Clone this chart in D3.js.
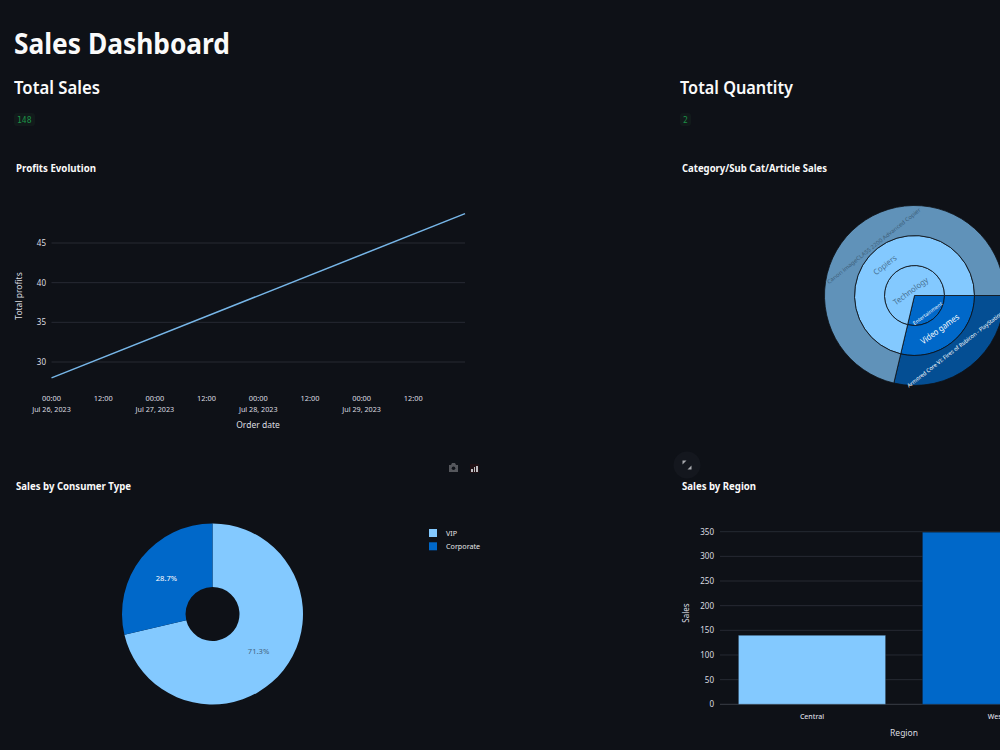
<!DOCTYPE html>
<html><head><meta charset="utf-8">
<script src="https://cdn.jsdelivr.net/npm/d3@7"></script>
<style>
html,body{margin:0;padding:0;background:#0e1117;overflow:hidden;width:1000px;height:750px}
svg{display:block;font-family:"Noto Sans",sans-serif}
</style></head><body><svg id="c" width="1000" height="750"></svg>
<script>
const lineDates = ["2023-07-26T00:00","2023-07-30T00:00"];
const lineProfits = [28,48.7];
const profitTicks = [30,35,40,45];
const dateTicks = ["2023-07-26T00:00","2023-07-26T12:00","2023-07-27T00:00","2023-07-27T12:00","2023-07-28T00:00","2023-07-28T12:00","2023-07-29T00:00","2023-07-29T12:00"];
const consumerTypes = ["VIP","Corporate"];
const consumerSales = [348,140];
const regions = ["Central","West"];
const regionSales = [140,349];
const regionTicks = [0,50,100,150,200,250,300,350];
const sunCategories = ["Technology","Entertainment"];
const sunSubCats = ["Copiers","Video games"];
const sunArticles = ["Canon imageCLASS 2200 Advanced Copier","Armored Core VI: Fires of Rubicon - PlayStation 5"];
const sunSales = [348,140];
const LIGHT="#83c9ff",DARK="#0068c9",BG="#0e1117",TXT="#fafafa",TICK="#dcdde0",GRID="#262a33";
const svg=d3.select("#c");
function txt(g,x,y,s,o={}){return g.append("text").attr("x",x).attr("y",y).text(s)
 .attr("fill",o.fill||TICK).attr("font-size",o.size||8).attr("font-weight",o.weight||400)
 .attr("text-anchor",o.anchor||"start").attr("font-family",o.family||null);}
// header
const HF='"Noto Sans",sans-serif';
txt(svg,14,54,"Sales Dashboard",{fill:TXT,size:28,weight:700,family:HF}).attr("textLength",216).attr("lengthAdjust","spacingAndGlyphs");
txt(svg,14,94,"Total Sales",{fill:TXT,size:18,weight:600,family:HF}).attr("textLength",86).attr("lengthAdjust","spacingAndGlyphs");
txt(svg,680,94,"Total Quantity",{fill:TXT,size:18,weight:600,family:HF}).attr("textLength",113).attr("lengthAdjust","spacingAndGlyphs");
svg.append("rect").attr("x",14).attr("y",113).attr("width",21).attr("height",13).attr("rx",3).attr("fill","#121a1b");
svg.append("rect").attr("x",680).attr("y",113).attr("width",11).attr("height",13).attr("rx",3).attr("fill","#121a1b");
txt(svg,17,123,"148",{fill:"#1c9146",size:8,family:"DejaVu Sans Mono"});
txt(svg,683,123,"2",{fill:"#1c9146",size:8,family:"DejaVu Sans Mono"});
[["Profits Evolution",16,172,80],["Category/Sub Cat/Article Sales",682,172,145],["Sales by Consumer Type",16,490,115],["Sales by Region",682,490,74]].forEach(d=>
 txt(svg,d[1],d[2],d[0],{fill:TXT,size:10,weight:700}).attr("textLength",d[3]).attr("lengthAdjust","spacingAndGlyphs"));
// line chart
const parse=d3.timeParse("%Y-%m-%dT%H:%M");
const x=d3.scaleTime().domain(lineDates.map(parse)).range([51.5,465]);
const y=d3.scaleLinear().domain([30,45]).range([362,243]);
const g1=svg.append("g");
g1.selectAll("line.g").data(profitTicks).join("line").attr("x1",51.5).attr("x2",465).attr("y1",d=>y(d)).attr("y2",d=>y(d)).attr("stroke",GRID);
profitTicks.forEach(t=>txt(g1,46,y(t)+3,t,{anchor:"end",size:8}));
dateTicks.map(parse).forEach(t=>{
 const px=x(t),h=t.getHours();
 txt(g1,px,401,d3.timeFormat("%H:%M")(t),{anchor:"middle",size:7.4});
 if(h===0)txt(g1,px,412,d3.timeFormat("%b %d, %Y")(t),{anchor:"middle",size:7.2});
});
txt(g1,258,428,"Order date",{anchor:"middle",size:8.5});
txt(g1,0,0,"Total profits",{anchor:"middle",size:8.5}).attr("transform","translate(22,296) rotate(-90)");
g1.append("path").datum(lineProfits).attr("fill","none").attr("stroke",LIGHT).attr("stroke-opacity",.9).attr("stroke-width",1.5)
 .attr("d",d3.line().x((d,i)=>x(parse(lineDates[i]))).y(d=>y(d)));
// sunburst
const sc=[914.5,295.5];
const total=d3.sum(sunSales);
const g2=svg.append("g").attr("transform",`translate(${sc})`);
const a0=Math.PI/2;
const ang=d3.scaleLinear().domain([0,total]).range([a0,a0+2*Math.PI]);
const order=[1,0];let cum=0;const spans=order.map(i=>{const s=[cum,cum+sunSales[i]];cum=s[1];return{i,a:ang(s[0]),b:ang(s[1])};});
const rings=[[0,30,1],[30,60,1],[60,90,.7]];
const arc=d3.arc();
rings.forEach(r=>spans.forEach(s=>{
 g2.append("path").attr("d",arc({innerRadius:r[0],outerRadius:r[1],startAngle:s.a,endAngle:s.b}))
  .attr("fill",s.i===0?LIGHT:DARK).attr("fill-opacity",r[2]).attr("stroke",BG).attr("stroke-width",.8);
}));
function lab(s,dx,dy,deg,size,fill,len,anchor){
 const t=g2.append("text").text(s).attr("text-anchor",anchor||"middle").attr("dominant-baseline","central")
  .attr("font-size",size).attr("fill",fill).attr("transform",`translate(${dx},${dy}) rotate(${deg})`);
 if(len)t.attr("textLength",len).attr("lengthAdjust","spacingAndGlyphs");
}
lab(sunCategories[0],-4.3,-5,-36,8,"#466f90",41);
lab(sunCategories[1],13,17.7,-36.5,5,"#ffffff",35);
lab(sunSubCats[0],-30,-31,-38,8,"#466f90",27);
lab(sunSubCats[1],25,33,-36,8.5,"#ffffff",45);
lab(sunArticles[0],-40.7,-49.7,-38.6,5.5,"#3d5f7a",118);
lab(sunArticles[1],-6.7,90.7,-38,5.5,"#ffffff",124,"start");
// donut
const dc=[212.5,614];
const g3=svg.append("g").attr("transform",`translate(${dc})`);
const pie=d3.pie().sort(null)(consumerSales);
const dArc=d3.arc().innerRadius(27).outerRadius(90.5);
g3.selectAll("path").data(pie).join("path").attr("d",dArc).attr("fill",(d,i)=>i?DARK:LIGHT);
pie.forEach((p,i)=>{const c=dArc.centroid(p);
 const pct=d3.format(".1%")(consumerSales[i]/d3.sum(consumerSales));
 txt(g3,c[0],c[1]+3.5,pct,{anchor:"middle",size:7.6,fill:i?"#ffffff":"#45657f"});});
// legend
consumerTypes.forEach((n,i)=>{
 svg.append("rect").attr("x",429).attr("y",529+i*13.3).attr("width",8).attr("height",8).attr("fill",i?DARK:LIGHT);
 txt(svg,446,536+i*13.3,n,{size:7.2,fill:"#e6e6e8"});
});
// bars
const bx=d3.scaleBand().domain(regions).range([720,1088]).paddingInner(.2).paddingOuter(.1);
const by=d3.scaleLinear().domain([0,350]).range([704.3,531.7]);
const g4=svg.append("g");
g4.selectAll("line").data(regionTicks).join("line").attr("x1",720).attr("x2",1000).attr("y1",d=>by(d)).attr("y2",d=>by(d)).attr("stroke",d=>d?GRID:"#3a3e47");
regionTicks.forEach(t=>txt(g4,714,by(t)+3,t,{anchor:"end",size:8}));
g4.selectAll("rect").data(regions).join("rect").attr("x",d=>bx(d)).attr("y",(d,i)=>by(regionSales[i])).attr("width",bx.bandwidth())
 .attr("height",(d,i)=>by(0)-by(regionSales[i])).attr("fill",(d,i)=>i?DARK:LIGHT)
 .attr("stroke",BG).attr("stroke-opacity",.35).attr("stroke-width",1);
regions.forEach(r=>txt(g4,bx(r)+bx.bandwidth()/2,718.5,r,{anchor:"middle",size:7,weight:500}));
txt(g4,904,736,"Region",{anchor:"middle",size:8.5});
txt(g4,0,0,"Sales",{anchor:"middle",size:8}).attr("transform","translate(689,613) rotate(-90)");
// toolbar icons
const ic=svg.append("g");
ic.append("path").attr("d","M449 465h2l1-2h3l1 2h2v7h-9z").attr("fill","#55575c");
ic.append("circle").attr("cx",453.5).attr("cy",468.3).attr("r",1.8).attr("fill",BG);
ic.append("rect").attr("x",470).attr("y",464).attr("width",9).attr("height",9).attr("fill","#1f1014");
[[471,469,2,3],[474,467,1,5],[476,466,2,6]].forEach(b=>ic.append("rect").attr("x",b[0]).attr("y",b[1]).attr("width",b[2]).attr("height",b[3]).attr("fill","#bdbdc0"));
ic.append("circle").attr("cx",687).attr("cy",465).attr("r",13.5).attr("fill","#14171e");
ic.append("path").attr("d","M682.5 460.5h4l-4 4zM691.5 469.5h-4l4-4z").attr("fill","#a9abaf");
</script></body></html>
